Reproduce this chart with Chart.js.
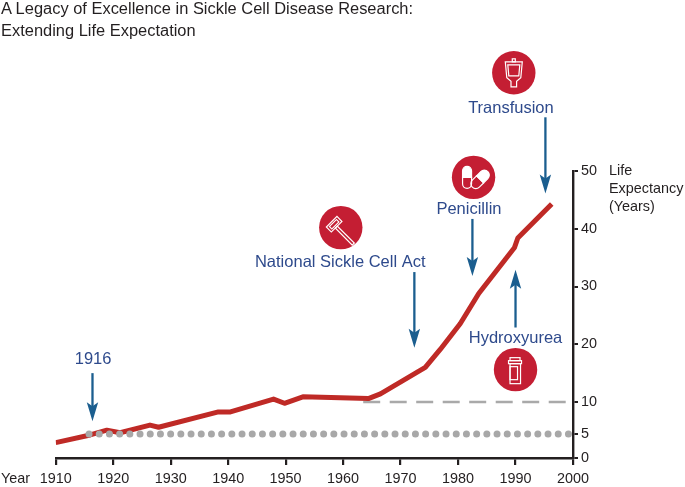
<!DOCTYPE html>
<html>
<head>
<meta charset="utf-8">
<style>
  html, body { margin: 0; padding: 0; background: #fff; overflow: hidden; }
  #wrap { position: relative; width: 685px; height: 487px; }
  .cap { position: absolute; font-family: "Liberation Sans", Arial, sans-serif; color: #231f20; }
  #title { left: 1px; top: -3px; font-size: 16.45px; line-height: 22px; }
  #ylab { left: 609px; top: 161px; font-size: 14.4px; line-height: 18px; }
  #xlab { left: 1px; top: 470px; font-size: 14.4px; line-height: 16px; }
</style>
</head>
<body>
<div id="wrap">
  <canvas id="myChart" width="685" height="487"></canvas>
  <div class="cap" id="title">A Legacy of Excellence in Sickle Cell Disease Research:<br>Extending Life Expectation</div>
  <div class="cap" id="ylab">Life<br>Expectancy<br>(Years)</div>
  <div class="cap" id="xlab">Year</div>
</div>

<script src="https://cdn.jsdelivr.net/npm/chart.js@4/dist/chart.umd.js"></script>
<script>
  // life expectancy curve
  const lifeYears = [1910, 1916, 1918.9, 1921.2, 1926.4, 1927.9, 1938.3, 1940.4, 1947.9, 1949.8, 1953, 1964.4, 1966.5, 1974.3, 1976.9, 1980.4, 1983.6, 1989.8, 1990.4, 1996.3];
  const lifeValues = [3.2, 4.8, 5.6, 5.2, 6.4, 6.05, 8.45, 8.45, 10.5, 9.8, 10.9, 10.6, 11.4, 16, 19.1, 23.6, 28.8, 36.7, 38.4, 44.3];

  const dashYears = [1963.5, 2000];
  const dashValues = [10, 10];
  const dotYears = [1915.8, 2000];
  const dotValues = [5, 5];

  const xTicks = [1910, 1920, 1930, 1940, 1950, 1960, 1970, 1980, 1990, 2000];
  const yTicks = [0, 5, 10, 20, 30, 40, 50];

  // the printed axis is not linear below 10
  const axisValues = [0, 5, 10, 50];
  const axisFractions = [0, 0.0836, 0.1951, 1];

  // arrows: year, tail value, tip value
  const arrowYears = [1916.4, 1972.4, 1982.5, 1995.2, 1990];
  const arrowTails = [15, 32.5, 41.7, 59.3, 22.9];
  const arrowTips = [7, 19.4, 31.8, 46.1, 32.9];

  const noteLabels = ["1916", "National Sickle Cell Act", "Penicillin", "Transfusion", "Hydroxyurea"];
  const noteYears = [1916.5, 1959.5, 1981.9, 1989.2, 1990];
  const noteValues = [17.4, 34.2, 43.4, 60.9, 21];

  const iconNames = ["gavel", "pills", "bag", "bottle"];
  const iconYears = [1959.6, 1982.7, 1989.7, 1990];
  const iconValues = [40.2, 48.9, 67, 15.6];

  class AnchoredScale extends Chart.LinearScale {
    getPixelForValue(value) {
      let i = 0;
      while (i < axisValues.length - 2 && value > axisValues[i + 1]) i++;
      const t = (value - axisValues[i]) / (axisValues[i + 1] - axisValues[i]);
      const f = axisFractions[i] + t * (axisFractions[i + 1] - axisFractions[i]);
      return this.bottom - f * (this.bottom - this.top);
    }
  }
  AnchoredScale.id = 'anchored';
  AnchoredScale.defaults = Chart.LinearScale.defaults;
  Chart.register(AnchoredScale);

  function toPoints(xs, ys) {
    return xs.map((x, i) => ({ x: x, y: ys[i] }));
  }

  function drawArrow(ctx, x, tail, tip) {
    const dir = tip > tail ? 1 : -1;
    ctx.strokeStyle = '#1b5e8f';
    ctx.fillStyle = '#1b5e8f';
    ctx.lineWidth = 2.3;
    ctx.beginPath();
    ctx.moveTo(x, tail);
    ctx.lineTo(x, tip - dir * 14);
    ctx.stroke();
    ctx.beginPath();
    ctx.moveTo(x, tip);
    ctx.lineTo(x - 5.7, tip - dir * 19);
    ctx.lineTo(x, tip - dir * 15);
    ctx.lineTo(x + 5.7, tip - dir * 19);
    ctx.closePath();
    ctx.fill();
  }

  function capsule(ctx, hl, hw) {
    // vertical capsule around the origin, top half filled white
    ctx.beginPath();
    ctx.moveTo(-hw, 0);
    ctx.lineTo(-hw, -hl + hw);
    ctx.arc(0, -hl + hw, hw, Math.PI, 0);
    ctx.lineTo(hw, 0);
    ctx.closePath();
    ctx.fill();
    ctx.stroke();
    ctx.beginPath();
    ctx.moveTo(-hw, 0);
    ctx.lineTo(-hw, hl - hw);
    ctx.arc(0, hl - hw, hw, Math.PI, 0, true);
    ctx.lineTo(hw, 0);
    ctx.closePath();
    ctx.stroke();
  }

  const iconDrawers = {
    gavel(ctx) {
      ctx.save();
      ctx.translate(-7, -3);
      ctx.rotate(Math.PI / 4);
      ctx.strokeRect(-3.5, -8, 7, 15);
      ctx.strokeRect(-1.7, -5.5, 3.4, 10);
      ctx.strokeRect(3.5, -1.4, 24, 2.8);
      ctx.restore();
    },
    pills(ctx) {
      ctx.save();
      ctx.translate(-6.5, 0);
      capsule(ctx, 11, 4.5);
      ctx.restore();
      ctx.save();
      ctx.translate(6.5, 2);
      ctx.rotate(Math.PI / 4);
      capsule(ctx, 11, 5);
      ctx.restore();
    },
    bag(ctx) {
      ctx.beginPath();
      ctx.moveTo(-8.5, -11);
      ctx.lineTo(8.5, -11);
      ctx.lineTo(7, 5);
      ctx.lineTo(2.8, 8.5);
      ctx.lineTo(2.8, 14);
      ctx.lineTo(-2.8, 14);
      ctx.lineTo(-2.8, 8.5);
      ctx.lineTo(-7, 5);
      ctx.closePath();
      ctx.stroke();
      ctx.beginPath();
      ctx.moveTo(-6, -8);
      ctx.lineTo(6, -8);
      ctx.lineTo(5, 3);
      ctx.lineTo(-5, 3);
      ctx.closePath();
      ctx.stroke();
      ctx.strokeRect(-1.5, -14, 3, 3);
    },
    bottle(ctx) {
      ctx.strokeRect(-5.5, -12, 10, 3);
      ctx.strokeRect(-7, -9, 13, 3);
      ctx.strokeRect(-5.5, -6, 10.5, 20);
      ctx.strokeRect(-5.5, -3, 7.5, 13);
    }
  };

  const overlayPlugin = {
    id: 'overlay',
    afterDatasetsDraw(chart) {
      const ctx = chart.ctx;
      const x = chart.scales.x;
      const y = chart.scales.y;
      ctx.save();

      arrowYears.forEach((year, i) => {
        drawArrow(ctx, x.getPixelForValue(year), y.getPixelForValue(arrowTails[i]), y.getPixelForValue(arrowTips[i]));
      });

      ctx.font = '16.5px "Liberation Sans", Arial, sans-serif';
      ctx.fillStyle = '#2e4a8c';
      ctx.textAlign = 'center';
      ctx.textBaseline = 'middle';
      noteLabels.forEach((label, i) => {
        ctx.fillText(label, x.getPixelForValue(noteYears[i]), y.getPixelForValue(noteValues[i]));
      });

      iconNames.forEach((name, i) => {
        const cx = x.getPixelForValue(iconYears[i]);
        const cy = y.getPixelForValue(iconValues[i]);
        ctx.fillStyle = '#c41e33';
        ctx.beginPath();
        ctx.arc(cx, cy, 21.7, 0, Math.PI * 2);
        ctx.fill();
        ctx.save();
        ctx.translate(cx, cy);
        ctx.strokeStyle = '#fff';
        ctx.fillStyle = '#fff';
        ctx.lineWidth = 1.2;
        iconDrawers[name](ctx);
        ctx.restore();
      });
      ctx.restore();
    }
  };

  const ink = '#231f20';
  const tickFont = { family: '"Liberation Sans", Arial, sans-serif', size: 14.4 };

  new Chart(document.getElementById('myChart'), {
    type: 'line',
    plugins: [overlayPlugin],
    data: {
      datasets: [
        {
          data: toPoints(dotYears, dotValues),
          borderColor: '#a8a8a8',
          borderWidth: 7,
          borderDash: [0, 10.2],
          borderCapStyle: 'round',
          pointRadius: 0,
          clip: false,
          order: 1
        },
        {
          data: toPoints(lifeYears, lifeValues),
          borderColor: '#bf2a26',
          borderWidth: 5,
          borderJoinStyle: 'round',
          tension: 0,
          pointRadius: 0,
          order: 2
        },
        {
          data: toPoints(dashYears, dashValues),
          borderColor: '#a9a9a9',
          borderWidth: 2.4,
          borderDash: [17, 9.5],
          pointRadius: 0,
          order: 3
        }
      ]
    },
    options: {
      responsive: false,
      animation: false,
      layout: { padding: { left: 55.7, right: 82, top: 171, bottom: 0 } },
      plugins: { legend: { display: false }, title: { display: false }, tooltip: { enabled: false } },
      scales: {
        x: {
          type: 'linear',
          min: 1910,
          max: 2000,
          afterBuildTicks: (scale) => { scale.ticks = xTicks.map(v => ({ value: v })); },
          afterFit: (scale) => { scale.height = 29; },
          border: { display: true, color: ink, width: 2.4 },
          grid: { drawOnChartArea: false, drawTicks: true, tickLength: 7, color: ink, lineWidth: 2.2 },
          ticks: { color: ink, font: tickFont, padding: 5, maxRotation: 0, autoSkip: false, callback: (v) => String(v) }
        },
        y: {
          type: 'anchored',
          position: 'right',
          min: 0,
          max: 50,
          afterBuildTicks: (scale) => { scale.ticks = yTicks.map(v => ({ value: v })); },
          afterFit: (scale) => { scale.width = 30; },
          border: { display: true, color: ink, width: 2.4 },
          grid: { drawOnChartArea: false, drawTicks: true, tickLength: 5, color: ink, lineWidth: 2 },
          ticks: { color: ink, font: tickFont, padding: 3, autoSkip: false, callback: (v) => String(v) }
        }
      }
    }
  });
</script>
</body>
</html>
